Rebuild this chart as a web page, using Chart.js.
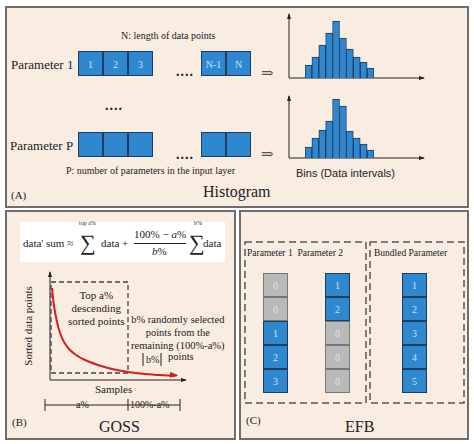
<!DOCTYPE html>
<html><head><meta charset="utf-8">
<script src="https://cdn.jsdelivr.net/npm/chart.js@4"></script>
<style>
body{margin:0;width:474px;height:444px;background:#fff;position:relative;font-family:"Liberation Serif","DejaVu Serif",serif;color:#222;overflow:hidden}
.abs{position:absolute}
.panel{position:absolute;background:#f9ede2;border:2px solid #6e6e6e;box-sizing:border-box}
.cell{position:absolute;background:#2f87d0;border:1px solid #1f3d5e;box-sizing:border-box;color:#cfe0f2;font-size:10px;text-align:center;line-height:23px}
.g{background:#b9b9b9;border-color:#777;color:#e4e4e4}
.t{position:absolute;white-space:nowrap}
canvas{position:absolute}
</style></head><body>
<div class="panel" style="left:5px;top:6px;width:464px;height:202px"></div>
<div class="panel" style="left:5px;top:210px;width:231px;height:230px"></div>
<div class="panel" style="left:239px;top:210px;width:230px;height:230px"></div>

<div class="t" style="left:121px;top:30px;font-size:10px">N: length of data points</div>
<div class="t" style="left:11px;top:57px;font-size:13px">Parameter 1</div>
<div class="t" style="left:10px;top:138px;font-size:13px">Parameter P</div>
<div class="t" style="left:176px;top:64px;font-size:14px;font-weight:bold;letter-spacing:1px">....</div>
<div class="t" style="left:176px;top:147px;font-size:14px;font-weight:bold;letter-spacing:1px">....</div>
<div class="t" style="left:105px;top:98px;font-size:14px;font-weight:bold;letter-spacing:1px">....</div>
<div class="t" style="left:261px;top:64px;font-size:15px;color:#555">⇒</div>
<div class="t" style="left:261px;top:145px;font-size:15px;color:#555">⇒</div>
<div class="t" style="left:66px;top:165px;font-size:10px">P: number of parameters in the input layer</div>
<div class="t" style="left:296px;top:167px;font-size:11px;font-family:'Liberation Sans',sans-serif">Bins (Data intervals)</div>
<div class="t" style="left:11px;top:189px;font-size:11px">(A)</div>
<div class="t" style="left:203px;top:183px;font-size:16px">Histogram</div>

<div class="abs" style="left:20px;top:222px;width:205px;height:40px;background:#fff"></div>
<div class="t" style="left:23px;top:237px;font-size:11px">data' sum ≈</div>
<div class="t" style="left:79px;top:220px;font-size:6px">top a%</div>
<div class="t" style="left:80px;top:230px;font-size:22px">∑</div>
<div class="t" style="left:101px;top:237px;font-size:11px">data +</div>
<div class="t" style="left:134px;top:228px;font-size:11px">100% − <i>a</i>%</div>
<div class="abs" style="left:134px;top:243px;width:52px;border-top:1px solid #222"></div>
<div class="t" style="left:152px;top:245px;font-size:11px"><i>b</i>%</div>
<div class="t" style="left:194px;top:220px;font-size:6px">b%</div>
<div class="t" style="left:189px;top:230px;font-size:22px">∑</div>
<div class="t" style="left:203px;top:237px;font-size:11px">data</div>

<div class="t" style="left:-12px;top:320px;font-size:11px;transform:rotate(-90deg)">Sorted data points</div>
<div class="t" style="left:68px;top:289px;font-size:11px;text-align:center;line-height:13px">Top a%<br>descending<br>sorted points</div>
<div class="t" style="left:131px;top:313px;font-size:10.5px;text-align:center;line-height:13px">b% randomly selected<br>points from the<br>remaining (100%-a%)</div>
<div class="t" style="left:146px;top:354px;font-size:10px">b%</div>
<div class="t" style="left:168px;top:351px;font-size:10.5px">points</div>
<div class="t" style="left:95px;top:383px;font-size:11px">Samples</div>
<div class="t" style="left:76px;top:399px;font-size:10px;background:#f9ede2">a%</div>
<div class="t" style="left:130px;top:399px;font-size:10px;background:#f9ede2">100%-a%</div>
<div class="t" style="left:12px;top:416px;font-size:11px">(B)</div>
<div class="t" style="left:99px;top:418px;font-size:16px">GOSS</div>

<div class="t" style="left:247px;top:248px;font-size:9.5px">Parameter 1&nbsp; Parameter 2</div>
<div class="t" style="left:374px;top:248px;font-size:9.5px">Bundled Parameter</div>
<div class="t" style="left:246px;top:414px;font-size:11px">(C)</div>
<div class="t" style="left:345px;top:418px;font-size:16px">EFB</div>

<svg class="abs" style="left:0;top:0" width="474" height="444">
<defs><marker id="ah" markerUnits="userSpaceOnUse" markerWidth="6" markerHeight="6" refX="5" refY="3" orient="auto"><path d="M0,1 L6,3 L0,5 z" fill="#222"/></marker>
<marker id="rh" markerUnits="userSpaceOnUse" markerWidth="8" markerHeight="8" refX="7" refY="4" orient="auto"><path d="M0,1 L8,4 L0,7 z" fill="#d21f1f"/></marker></defs>
<g stroke="#222" stroke-width="1" fill="none">
<line x1="289" y1="78" x2="289" y2="14" marker-end="url(#ah)"/><line x1="289" y1="78" x2="424" y2="78" marker-end="url(#ah)"/>
<line x1="289" y1="158" x2="289" y2="96" marker-end="url(#ah)"/><line x1="289" y1="158" x2="424" y2="158" marker-end="url(#ah)"/>
<line x1="50" y1="380" x2="50" y2="272" marker-end="url(#ah)"/><line x1="50" y1="380" x2="186" y2="380" marker-end="url(#ah)"/>
<rect x="51" y="282" width="77" height="91" stroke="#444" stroke-dasharray="5,3" stroke-width="1.3"/>
<line x1="143" y1="353" x2="143" y2="366"/><line x1="161" y1="353" x2="161" y2="366"/>
<line x1="45" y1="405" x2="180" y2="405"/><line x1="45" y1="399" x2="45" y2="411"/><line x1="128" y1="399" x2="128" y2="411"/><line x1="180" y1="399" x2="180" y2="411"/>
<rect x="245" y="242" width="121" height="161" stroke="#555" stroke-dasharray="7,4" stroke-width="1.5"/>
<rect x="370" y="242" width="94" height="161" stroke="#555" stroke-dasharray="7,4" stroke-width="1.5"/>
<line x1="172" y1="375" x2="177" y2="375.5" stroke="#d21f1f" stroke-width="2" marker-end="url(#rh)"/>
</g></svg>

<div id="cells"></div>
<canvas id="h1" width="69" height="63" style="left:305px;top:15px;width:69px;height:63px"></canvas>
<canvas id="h2" width="69" height="63" style="left:305px;top:95px;width:69px;height:63px"></canvas>
<canvas id="goss" width="125" height="107" style="left:50px;top:273px;width:125px;height:107px"></canvas>

<script>
const histBins = ["1","2","3","4","5","6","7","8","9","10"];
const hist1 = [13,21,33,45,57,40,29,21,16,10];
const hist2 = [11,20,28,37,59,52,27,20,14,8];
const gossX = [2,4,7,10,14,19,26,35,48,62,78,95,110,125];
const gossY = [92,74,58,47,38,31,25,20,15,11,8,6,5,4];
const row1Labels = ["1","2","3","N-1","N"];
const param1 = ["0","0","1","2","3"];
const param2 = ["1","2","0","0","0"];
const bundled = ["1","2","3","4","5"];

const cellsDiv = document.getElementById('cells');
function cell(x,y,w,h,txt,gray){const d=document.createElement('div');d.className='cell'+(gray?' g':'');
 d.style.cssText+=`left:${x}px;top:${y}px;width:${w}px;height:${h}px;line-height:${h}px`;d.textContent=txt;cellsDiv.appendChild(d);}
[0,1,2].forEach(i=>{cell(78+i*25,51,25,25,row1Labels[i]);cell(78+i*25,132,25,25,"");});
[0,1].forEach(i=>{cell(201+i*25,51,25,25,row1Labels[3+i]);cell(201+i*25,132,25,25,"");});
param1.forEach((v,i)=>cell(263,273+i*24,25,24,v,v==="0"));
param2.forEach((v,i)=>cell(325,273+i*24,25,24,v,v==="0"));
bundled.forEach((v,i)=>cell(402,273+i*24,25,24,v,false));

function hist(id,data){
 new Chart(document.getElementById(id),{type:'bar',data:{labels:histBins,datasets:[{data,backgroundColor:'#2f87d0',borderColor:'#1f3d5e',borderWidth:1,barPercentage:1,categoryPercentage:1}]},
 options:{responsive:false,animation:false,layout:{padding:0},plugins:{legend:{display:false},tooltip:{enabled:false}},
 scales:{x:{display:false},y:{display:false,min:0,max:63}}}});
}
hist('h1',hist1);hist('h2',hist2);
new Chart(document.getElementById('goss'),{type:'line',data:{datasets:[{data:gossX.map((x,i)=>({x,y:gossY[i]})),borderColor:'#d21f1f',borderWidth:2,pointRadius:0,tension:0.4}]},
 options:{responsive:false,animation:false,layout:{padding:0},plugins:{legend:{display:false},tooltip:{enabled:false}},
 scales:{x:{type:'linear',display:false,min:0,max:125},y:{display:false,min:0,max:107}}}});
</script>
</body></html>
